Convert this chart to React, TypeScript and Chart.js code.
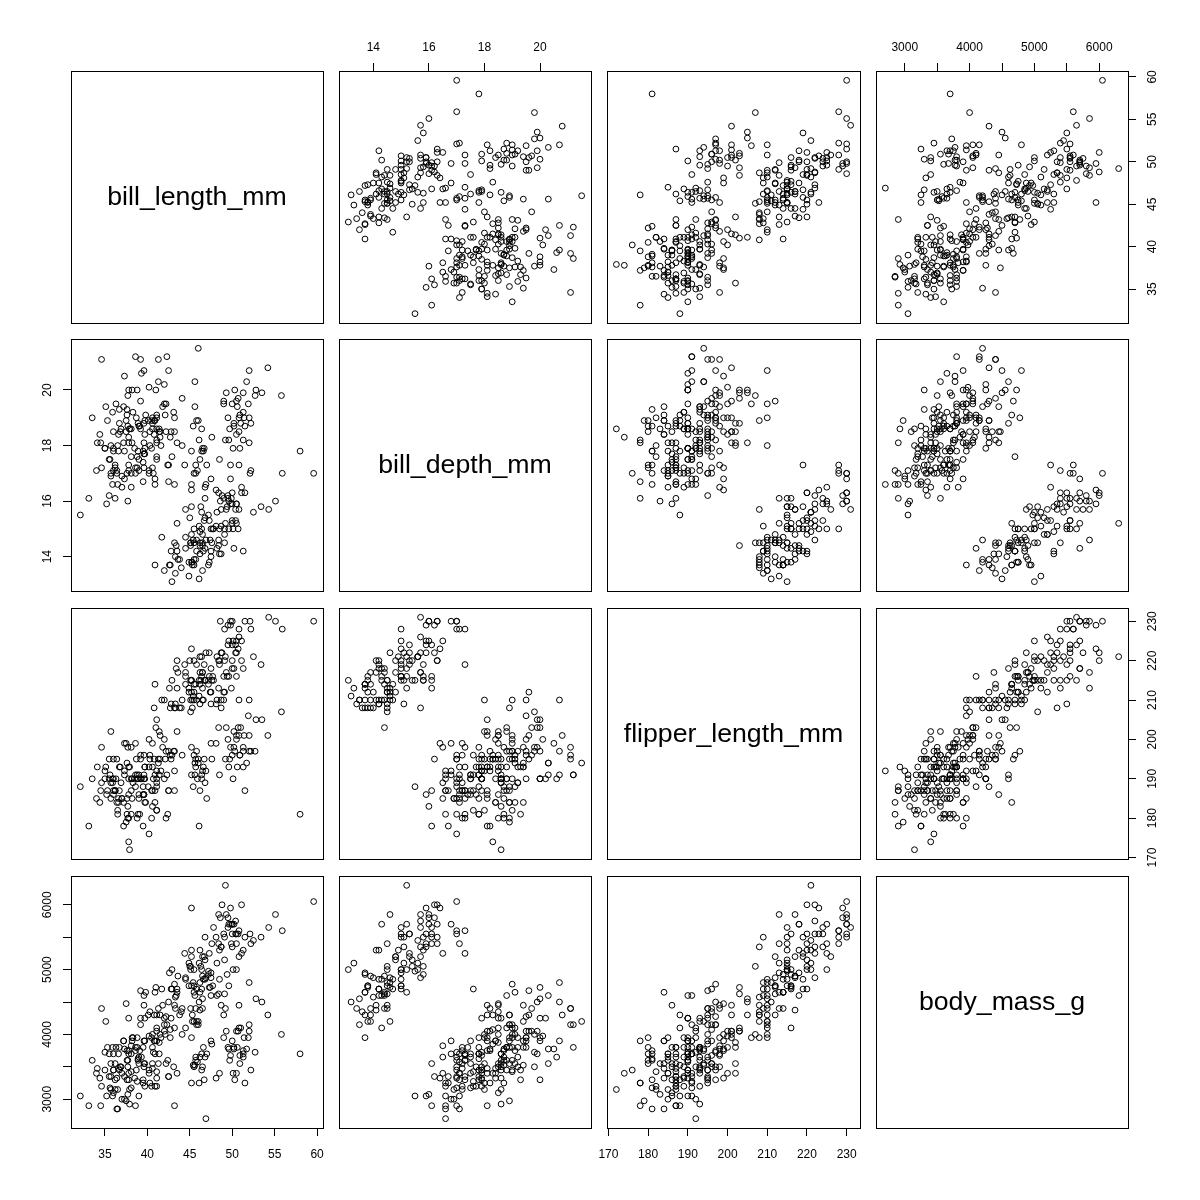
import React, { useEffect, useRef } from "react";
import { Chart, registerables } from "chart.js";

Chart.register(...registerables);

const billLength = [
  39.1,39.5,40.3,36.7,39.3,38.9,39.2,34.1,42,37.8,37.8,41.1,38.6,34.6,36.6,38.7,42.5,34.4,46,37.8,
  37.7,35.9,38.2,38.8,35.3,40.6,40.5,37.9,40.5,39.5,37.2,39.5,40.9,36.4,39.2,38.8,42.2,37.6,39.8,36.5,
  40.8,36,44.1,37,39.6,41.1,37.5,36,42.3,39.6,40.1,35,42,34.5,41.4,39,40.6,36.5,37.6,35.7,
  41.3,37.6,41.1,36.4,41.6,35.5,41.1,35.9,41.8,33.5,39.7,39.6,45.8,35.5,42.8,40.9,37.2,36.2,42.1,34.6,
  42.9,36.7,35.1,37.3,41.3,36.3,36.9,38.3,38.9,35.7,41.1,34,39.6,36.2,40.8,38.1,40.3,33.1,43.2,35,
  41,37.7,37.8,37.9,39.7,38.6,38.2,38.1,43.2,38.1,45.6,39.7,42.2,39.6,42.7,38.6,37.3,35.7,41.1,36.2,
  37.7,40.2,41.4,35.2,40.6,38.8,41.5,39,44.1,38.5,43.1,36.8,37.5,38.1,41.1,35.6,40.2,37,39.7,40.2,
  40.6,32.1,40.7,37.3,39,39.2,36.6,36,37.8,36,41.5,
  46.1,50,48.7,50,47.6,46.5,45.4,46.7,43.3,46.8,40.9,49,45.5,48.4,45.8,49.3,42,49.2,46.2,48.7,
  50.2,45.1,46.5,46.3,42.9,46.1,44.5,47.8,48.2,50,47.3,42.8,45.1,59.6,49.1,48.4,42.6,44.4,44,48.7,
  42.7,49.6,45.3,49.6,50.5,43.6,45.5,50.5,44.9,45.2,46.6,48.5,45.1,50.1,46.5,45,43.8,45.5,43.2,50.4,
  45.3,46.2,45.7,54.3,45.8,49.8,46.2,49.5,43.5,50.7,47.7,46.4,48.2,46.5,46.4,48.6,47.5,51.1,45.2,45.2,
  49.1,52.5,47.4,50,44.9,50.8,43.4,51.3,47.5,52.1,47.5,52.2,45.5,49.5,44.5,50.8,49.4,46.9,48.4,51.1,
  48.5,55.9,47.2,49.1,47.3,46.8,41.7,53.4,43.3,48.1,50.5,49.8,43.5,51.5,46.2,55.1,44.5,48.8,47.2,46.8,
  50.4,45.2,49.9,
  46.5,50,51.3,45.4,52.7,45.2,46.1,51.3,46,51.3,46.6,51.7,47,52,45.9,50.5,50.3,58,46.4,49.2,
  42.4,48.5,43.2,50.6,46.7,52,50.5,49.5,46.4,52.8,40.9,54.2,42.5,51,49.7,47.5,47.6,52,46.9,53.5,
  49,46.2,50.9,45.5,50.9,50.8,50.1,49,51.5,49.8,48.1,51.4,45.7,50.7,42.5,52.2,45.2,49.3,50.2,45.6,
  51.9,46.8,45.7,55.8,43.5,49.6,50.8,50.2,
];

const billDepth = [
  18.7,17.4,18,19.3,20.6,17.8,19.6,18.1,20.2,17.1,17.3,17.6,21.2,21.1,17.8,19,20.7,18.4,21.5,18.3,
  18.7,19.2,18.1,17.2,18.9,18.6,17.9,18.6,18.9,16.7,18.1,17.8,18.9,17,21.1,20,18.5,19.3,19.1,18,
  18.4,18.5,19.7,16.9,18.8,19,18.9,17.9,21.2,17.7,18.9,17.9,19.5,18.1,18.6,17.5,18.8,16.6,19.1,16.9,
  21.1,17,18.2,17.1,18,16.2,19.1,16.6,19.4,19,18.4,17.2,18.9,17.5,18.5,16.8,19.4,16.1,19.1,17.2,
  17.6,18.8,19.4,17.8,20.3,19.5,18.6,19.2,18.8,18,18.1,17.1,18.1,17.3,18.9,18.6,18.5,16.1,18.5,17.9,
  20,16,20,18.6,18.9,17.2,20,17,19,16.5,20.3,17.7,19.5,20.7,18.3,17,20.5,17,18.6,17.2,
  19.8,17,18.5,15.9,19,17.6,18.3,17.1,18,17.9,19.2,18.5,18.5,17.6,17.5,17.5,20.1,16.5,17.9,17.1,
  17.2,15.5,17,16.8,18.7,18.6,18.4,17.8,18.1,17.1,18.5,
  13.2,16.3,14.1,15.2,14.5,13.5,14.6,15.3,13.4,15.4,13.7,16.1,13.7,14.6,14.6,15.7,13.5,15.2,14.5,15.1,
  14.3,14.5,14.5,15.8,13.1,15.1,14.3,15,14.3,15.3,15.3,14.2,14.5,17,14.8,16.3,13.7,17.3,13.6,15.7,
  13.7,16,13.7,15,15.9,13.9,13.9,15.9,13.3,15.8,14.2,14.1,14.4,15,14.4,15.4,13.9,15,14.5,15.3,
  13.8,14.9,13.9,15.7,14.2,16.8,14.4,16.2,14.2,15,15,15.6,15.6,14.8,15,16,14.2,16.3,13.8,16.4,
  14.5,15.6,14.6,15.9,13.8,17.3,14.4,14.2,14,17,15,17.1,14.5,16.1,14.7,15.7,15.8,14.6,14.4,16.5,
  15,17,15.5,15,13.8,16.1,14.7,15.8,14,15.1,15.2,15.9,15.2,16.3,14.1,16,15.7,16.2,13.7,14.3,
  15.7,14.8,16.1,
  17.9,19.5,19.2,18.7,19.8,17.8,18.2,18.2,18.9,19.9,17.8,20.3,17.3,18.1,17.1,19.6,20,17.8,18.6,18.2,
  17.3,17.5,16.6,19.4,17.9,19,18.4,19,17.8,20,16.6,20.8,16.7,18.8,18.6,16.8,18.3,20.7,16.6,19.9,
  19.5,17.5,19.1,17,17.9,18.5,17.9,19.6,18.7,17.3,16.4,19,17.3,19.7,17.3,18.8,16.6,19.9,18.8,19.4,
  19.5,16.5,17,19.8,18.1,18.2,19,18.7,
];

const flipperLength = [
  181,186,195,193,190,181,195,193,190,186,180,182,191,198,185,195,197,184,194,174,
  180,189,185,180,187,183,187,172,180,178,178,188,184,195,196,190,180,181,184,182,
  195,186,196,185,190,182,179,190,191,186,188,190,200,187,191,186,193,181,194,185,
  195,185,192,184,192,195,188,190,198,190,190,196,197,190,195,191,184,187,195,189,
  196,187,193,191,194,190,189,189,190,202,205,185,186,187,208,190,196,178,192,192,
  203,183,190,193,184,199,190,181,197,198,191,193,197,191,196,188,199,189,189,187,
  198,176,202,186,199,191,195,191,210,190,197,193,199,187,190,191,200,185,193,193,
  187,188,190,192,185,190,184,195,193,187,201,
  211,230,210,218,215,210,211,219,209,215,214,216,214,213,210,217,210,221,209,222,
  218,215,213,215,215,215,216,215,210,220,222,209,207,230,220,220,213,219,208,208,
  208,225,210,216,222,217,210,225,213,215,210,220,210,225,217,220,208,220,208,224,
  208,221,214,231,219,230,214,229,220,223,216,221,221,217,216,230,209,220,215,223,
  212,221,212,224,212,228,218,218,212,230,218,228,212,224,214,226,216,222,203,225,
  219,228,215,228,216,215,210,219,208,209,216,229,213,230,217,230,217,222,214,215,
  222,212,213,
  192,196,193,188,197,198,178,197,195,198,193,194,185,201,190,201,197,181,190,195,
  181,191,187,193,195,197,200,200,191,205,187,201,187,203,195,199,195,210,192,205,
  210,187,196,196,196,201,190,212,187,198,199,201,193,203,187,197,191,203,202,194,
  206,189,195,207,202,193,210,198,
];

const bodyMass = [
  3750,3800,3250,3450,3650,3625,4675,3475,4250,3300,3700,3200,3800,4400,3700,3450,4500,3325,4200,3400,
  3600,3800,3950,3800,3800,3550,3200,3150,3950,3250,3900,3300,3900,3325,4150,3950,3550,3300,4650,3150,
  3900,3100,4400,3000,4600,3425,2975,3450,4150,3500,4300,3450,4050,2900,3700,3550,3800,2850,3750,3150,
  4400,3600,4050,2850,3950,3350,4100,3050,4450,3600,3900,3550,4150,3700,4250,3700,3900,3550,4000,3200,
  4700,3800,4200,3350,3550,3800,3500,3950,3600,3550,4300,3400,4450,3300,4300,3700,4350,2900,4100,3725,
  4725,3075,4250,2925,3550,3750,3900,3175,4775,3825,4600,3200,4275,3900,4075,2900,3775,3350,3325,3150,
  3500,3450,3875,3050,4000,3275,4300,3050,4000,3325,3500,3500,4475,3425,3900,3175,3975,3400,4250,3400,
  3475,3050,3725,3000,3650,4250,3475,3450,3750,3700,4000,
  4500,5700,4450,5700,5400,4550,4800,5200,4400,5150,4650,5550,4650,5850,4200,5850,4150,6300,4800,5350,
  5700,5000,4400,5050,5000,5100,4100,5650,4600,5550,5250,4700,5050,6050,5150,5400,4950,5250,4350,5350,
  3950,5700,4300,4750,5550,4900,4200,5400,5100,5300,4850,5300,4400,5000,4900,5050,4300,5000,4450,5550,
  4200,5300,4400,5650,4700,5700,4650,5800,4700,5550,4750,5000,5100,5200,4700,5800,4600,6000,4750,5950,
  4625,5450,4725,5350,4750,5600,4600,5300,4875,5550,4950,5400,4750,5650,4850,5200,4925,4875,4625,5250,
  4850,5600,4975,5500,4725,5500,4700,5500,4575,5500,5000,5950,4650,5500,4375,5850,4875,6000,4925,4850,
  5750,5200,5400,
  3500,3900,3650,3525,3725,3950,3250,3750,4150,3700,3800,3775,3700,4050,3575,4050,3300,3700,3450,4400,
  3600,3400,2900,3800,3300,4150,3400,3800,3700,4550,3200,4300,3350,4100,3600,3900,3850,4800,2700,4500,
  3950,3650,3550,3500,3675,4450,3400,4300,3250,3675,3325,3950,3600,4050,3350,3450,3250,4050,3800,3525,
  3950,3650,3650,4000,3400,3775,4100,3775,
];

const variableNames = ["bill_length_mm", "bill_depth_mm", "flipper_length_mm", "body_mass_g"];
const variableValues = [billLength, billDepth, flipperLength, bodyMass];
const axisMin = [31, 12.764, 169.64, 2556];
const axisMax = [60.7, 21.836, 233.36, 6444];
const billLengthTicks = [35, 40, 45, 50, 55, 60];
const billDepthTicks = [14, 16, 18, 20];
const flipperTicks = [170, 180, 190, 200, 210, 220, 230];
const bodyMassTicks = [3000, 3500, 4000, 4500, 5000, 5500, 6000];
const tickValues = [billLengthTicks, billDepthTicks, flipperTicks, bodyMassTicks];
const labelSteps = [5, 2, 10, 1000];
const labelPads = [9.3, 9.3, 6, 2.6];

const panelLeft = [71, 339, 607, 876];
const panelRight = [323, 591, 860, 1128];
const panelTop = [71, 339, 608, 876];
const panelBottom = [323, 591, 859, 1128];
const MARGIN = 60;
const AXIS_SIZE = 45;
const FONT_FAMILY = '"Liberation Sans", Arial, sans-serif';

function axisOptions(v: number, axis: "x" | "y", position: string | null) {
  const base: any = {
    type: "linear",
    min: axisMin[v],
    max: axisMax[v],
    display: position !== null,
    position: position ?? (axis === "x" ? "bottom" : "left"),
    border: { display: false },
    grid: { drawOnChartArea: false, drawTicks: true, tickLength: 8, tickColor: "#000", tickWidth: 1 },
    ticks: {
      autoSkip: false,
      color: "#000",
      font: { family: FONT_FAMILY, size: 12 },
      padding: position === "top" ? 8 : 11,
      maxRotation: 0,
      minRotation: 0,
      callback: (value: number) => (value % labelSteps[v] === 0 ? String(value) : ""),
    },
    afterBuildTicks: (scale: any) => {
      scale.ticks = tickValues[v].map((value) => ({ value }));
    },
  };
  if (axis === "y") {
    base.ticks.minRotation = 90;
    base.ticks.maxRotation = 90;
    base.ticks.crossAlign = "center";
    base.ticks.padding = labelPads[v] + (position === "right" ? 1 : -1);
  }
  base.afterFit = (scale: any) => {
    const size = position === null ? 0 : AXIS_SIZE;
    if (axis === "x") scale.height = size;
    else scale.width = size;
  };
  return base;
}

function Panel({ row, col }: { row: number; col: number }) {
  const ref = useRef<HTMLCanvasElement | null>(null);
  const w = panelRight[col] - panelLeft[col];
  const h = panelBottom[row] - panelTop[row];

  useEffect(() => {
    if (!ref.current) return;
    const isDiagonal = row === col;
    const xPos = isDiagonal ? null : row === 0 && col % 2 === 1 ? "top" : row === 3 && col % 2 === 0 ? "bottom" : null;
    const yPos = isDiagonal ? null : col === 0 && row % 2 === 1 ? "left" : col === 3 && row % 2 === 0 ? "right" : null;
    const points = isDiagonal
      ? []
      : variableValues[col].map((x, i) => ({ x, y: variableValues[row][i] }));
    const panelPlugin = {
      id: "panelFrame",
      afterDraw(chart: any) {
        const { ctx, chartArea } = chart;
        ctx.save();
        ctx.strokeStyle = "#000";
        ctx.lineWidth = 1;
        ctx.strokeRect(
          Math.round(chartArea.left) + 0.5,
          Math.round(chartArea.top) + 0.5,
          Math.round(chartArea.right - chartArea.left),
          Math.round(chartArea.bottom - chartArea.top),
        );
        if (isDiagonal) {
          ctx.fillStyle = "#000";
          ctx.font = `26.7px ${FONT_FAMILY}`;
          ctx.textAlign = "center";
          ctx.textBaseline = "middle";
          ctx.fillText(
            variableNames[row],
            (chartArea.left + chartArea.right) / 2,
            (chartArea.top + chartArea.bottom) / 2 + 1,
          );
        }
        ctx.restore();
      },
    };
    const chart = new Chart(ref.current, {
      type: "scatter",
      data: {
        datasets: [
          {
            label: `${variableNames[row]} vs ${variableNames[col]}`,
            data: points,
            pointRadius: 2.9,
            pointBorderWidth: 1,
            pointBorderColor: "#000",
            pointBackgroundColor: "rgba(0,0,0,0)",
            showLine: false,
          },
        ],
      },
      options: {
        animation: false,
        responsive: false,
        devicePixelRatio: 1,
        layout: {
          padding: {
            left: yPos === "left" ? MARGIN - AXIS_SIZE : MARGIN,
            right: yPos === "right" ? MARGIN - AXIS_SIZE : MARGIN,
            top: xPos === "top" ? MARGIN - AXIS_SIZE : MARGIN,
            bottom: xPos === "bottom" ? MARGIN - AXIS_SIZE : MARGIN,
          },
        },
        plugins: { legend: { display: false }, tooltip: { enabled: false }, title: { display: false } },
        scales: {
          x: axisOptions(isDiagonal ? 0 : col, "x", xPos),
          y: axisOptions(isDiagonal ? 0 : row, "y", yPos),
        },
      },
      plugins: [panelPlugin],
    } as any);
    return () => chart.destroy();
  }, [row, col]);

  return (
    <canvas
      ref={ref}
      width={w + 2 * MARGIN}
      height={h + 2 * MARGIN}
      style={{
        position: "absolute",
        left: panelLeft[col] - MARGIN,
        top: panelTop[row] - MARGIN,
        width: w + 2 * MARGIN,
        height: h + 2 * MARGIN,
        display: "block",
      }}
    />
  );
}

export default function App() {
  const cells: React.ReactNode[] = [];
  for (let row = 0; row < 4; row++) {
    for (let col = 0; col < 4; col++) {
      cells.push(<Panel key={`${row}-${col}`} row={row} col={col} />);
    }
  }
  return (
    <div style={{ position: "absolute", left: 0, top: 0, width: 1200, height: 1200, background: "#fff", overflow: "hidden" }}>
      {cells}
    </div>
  );
}
